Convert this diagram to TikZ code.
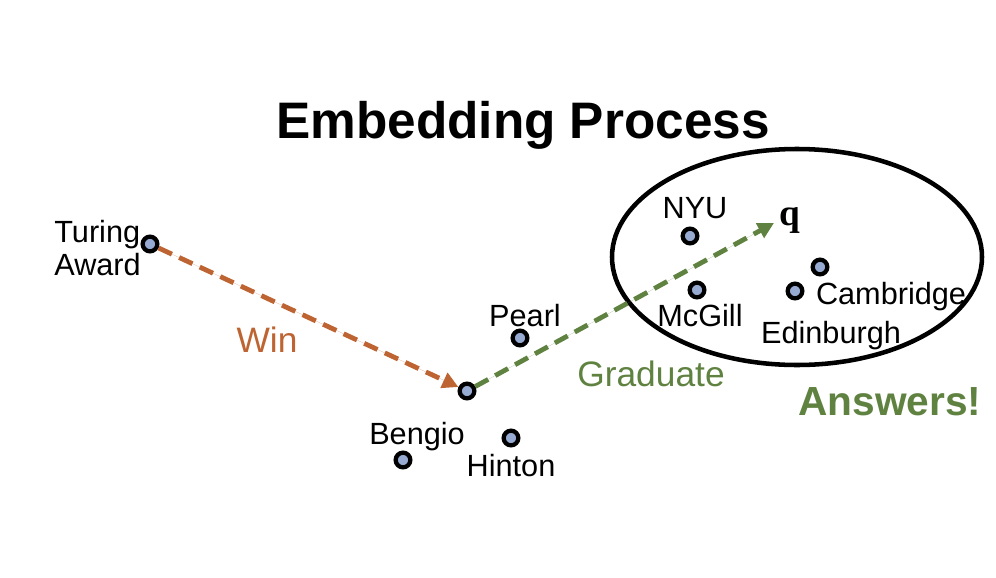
\documentclass[tikz,border=0pt]{standalone}
\usepackage{fontspec}
\setmainfont{Liberation Sans}
\newfontfamily\qfont{Liberation Serif}
\usetikzlibrary{arrows.meta}
\definecolor{winc}{RGB}{190,100,50}
\definecolor{gradc}{RGB}{95,130,65}
\definecolor{dotc}{RGB}{150,170,210}
\tikzset{
 ent/.style={circle,draw=black,line width=3.2pt,fill=dotc,inner sep=0pt,minimum size=11pt},
 lbl/.style={font=\fontsize{23}{25}\selectfont,inner sep=0pt,align=left},
 rel/.style={line width=3.6pt,dash pattern=on 11pt off 6pt,-{Triangle[length=12pt,width=12pt]}}
}
\begin{document}
\begin{tikzpicture}[x=0.75pt,y=-0.75pt]
\useasboundingbox (0,0) rectangle (996,578);
\node[font=\fontsize{38.5}{42}\selectfont\bfseries] (title) at (523,125) {Embedding Process};
\draw[line width=3.4pt] (797,257) ellipse (185 and 108);
\node[ent] (tur) at (150,244) {};
\node[ent] (c) at (467,391) {};
\node[ent] (pearl) at (520,338) {};
\node[ent] (beng) at (403,460) {};
\node[ent] (hin) at (511,438) {};
\node[ent] (nyu) at (690,236) {};
\node[ent] (mcg) at (697,290) {};
\node[ent] (cam) at (820,267) {};
\node[ent] (edi) at (795,291) {};
\coordinate (q) at (774,223);
\node[lbl,anchor=east] at (141,248) {Turing\\Award};
\node[lbl] at (525,316) {Pearl};
\node[lbl] at (417,437) {Bengio};
\node[lbl] at (511,466) {Hinton};
\node[lbl] at (695,208) {NYU};
\node[lbl] at (700,316) {McGill};
\node[lbl] at (891,297) {Cambridge};
\node[lbl] at (831,336) {Edinburgh};
\node[font=\fontsize{28}{30}\selectfont\bfseries\qfont] at (790,220) {q};
\draw[rel,draw=winc,fill=winc] (tur) -- (c);
\draw[rel,draw=gradc,fill=gradc] (c) -- (q);
\node[font=\fontsize{26.5}{28}\selectfont,text=winc] at (267,340) {Win};
\node[font=\fontsize{26.5}{28}\selectfont,text=gradc] at (651,374) {Graduate};
\node[font=\fontsize{30.5}{32}\selectfont\bfseries,text=gradc] at (890,402) {Answers!};
\end{tikzpicture}
\end{document}
